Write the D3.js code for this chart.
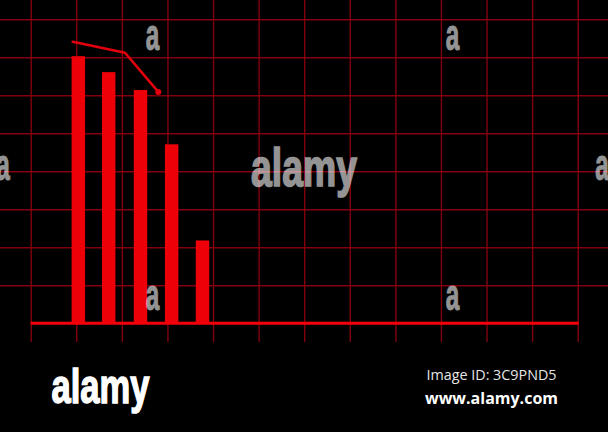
<!DOCTYPE html>
<html>
<head>
<meta charset="utf-8">
<script src="https://cdn.jsdelivr.net/npm/d3@7"></script>
<style>
  html, body { margin: 0; padding: 0; background: #000; }
  svg { display: block; }
</style>
</head>
<body>
<svg id="chart" width="608" height="432"></svg>
<script>
// ---- data ----
const xTicks = [0,1,2,3,4,5,6,7,8,9,10,11,12];
const yTicks = [1,2,3,4,5,6,7,8];
const barPositions = [1.045, 1.711, 2.409, 3.092, 3.769];
const barValues = [7.03, 6.61, 6.14, 4.71, 2.18];
const linePositions = [0.921, 2.069, 2.799];
const lineValues = [7.41, 7.12, 6.09];
const watermarkSmall = [[152.5, 50], [452.5, 50], [3, 180], [602, 180], [152.5, 310], [452.5, 310]];
const imageIdText = "Image ID: 3C9PND5";
const siteText = "www.alamy.com";
const logoText = "alamy";

const W = 608, H = 432;
const svg = d3.select("#chart");
svg.append("rect").attr("width", W).attr("height", H).attr("fill", "#000");

const x = d3.scaleLinear().domain([0, 12]).range([30.7, 577.7]);
const y = d3.scaleLinear().domain([0, 8]).range([323.3, 19.3]);

const gridColor = "#82000e";

// horizontal grid lines (full width)
const gy = svg.append("g")
  .call(d3.axisLeft(y).tickValues(yTicks).tickSize(-W).tickSizeOuter(0).tickFormat(""));
gy.select(".domain").remove();
gy.selectAll(".tick line").attr("stroke", gridColor).attr("stroke-width", 1.4);

// vertical grid lines (top to below baseline)
const gx = svg.append("g").attr("transform", "translate(0,342)")
  .call(d3.axisBottom(x).tickValues(xTicks).tickSize(-342).tickSizeOuter(0).tickFormat(""));
gx.select(".domain").remove();
gx.selectAll(".tick line").attr("stroke", gridColor).attr("stroke-width", 1.4);

// bars
const barW = 0.295;
svg.append("g").selectAll("rect")
  .data(barValues)
  .join("rect")
  .attr("x", (d, i) => x(barPositions[i] - barW / 2))
  .attr("width", (d, i) => x(barPositions[i] + barW / 2) - x(barPositions[i] - barW / 2))
  .attr("y", d => y(d))
  .attr("height", d => y(0) - y(d))
  .attr("fill", "#ee0008");

// baseline
svg.append("line")
  .attr("x1", x(0)).attr("x2", x(12) + 1)
  .attr("y1", y(0)).attr("y2", y(0))
  .attr("stroke", "#f5000a").attr("stroke-width", 3);

// line series
const lineData = linePositions.map((p, i) => [p, lineValues[i]]);
svg.append("path")
  .datum(lineData)
  .attr("fill", "none")
  .attr("stroke", "#e3000c")
  .attr("stroke-width", 2.6)
  .attr("stroke-linecap", "round")
  .attr("stroke-linejoin", "round")
  .attr("d", d3.line().x(d => x(d[0])).y(d => y(d[1])));
svg.append("circle")
  .attr("cx", x(linePositions[linePositions.length - 1]))
  .attr("cy", y(lineValues[lineValues.length - 1]))
  .attr("r", 3).attr("fill", "#e3000c");

// watermarks
const wmFont = "'Liberation Sans', Arial, sans-serif";
const wm = svg.append("g").attr("opacity", 0.58);
wm.selectAll("text.small")
  .data(watermarkSmall)
  .join("text")
  .attr("class", "small")
  .attr("x", d => d[0]).attr("y", d => d[1])
  .attr("text-anchor", "middle")
  .attr("font-family", wmFont).attr("font-weight", "bold")
  .attr("font-size", 44)
  .attr("textLength", 13.5).attr("lengthAdjust", "spacingAndGlyphs")
  .attr("fill", "#fff").attr("stroke", "#fff").attr("stroke-width", 1)
  .text("a");

wm.append("text")
  .attr("x", 304).attr("y", 186)
  .attr("text-anchor", "middle")
  .attr("font-family", wmFont).attr("font-weight", "bold")
  .attr("font-size", 53)
  .attr("textLength", 106).attr("lengthAdjust", "spacingAndGlyphs")
  .attr("fill", "#fff").attr("stroke", "#fff").attr("stroke-width", 1.6)
  .text(logoText);

// bottom band texts
svg.append("text")
  .attr("x", 51.5).attr("y", 403)
  .attr("font-family", wmFont).attr("font-weight", "bold")
  .attr("font-size", 48)
  .attr("textLength", 98).attr("lengthAdjust", "spacingAndGlyphs")
  .attr("fill", "#fff").attr("stroke", "#fff").attr("stroke-width", 1.5)
  .text(logoText);

svg.append("text")
  .attr("x", 426.5).attr("y", 380)
  .attr("font-family", "'Open Sans', 'Noto Sans', sans-serif")
  .attr("font-size", 14.5)
  .attr("textLength", 130).attr("lengthAdjust", "spacingAndGlyphs")
  .attr("fill", "#e6e6e6")
  .text(imageIdText);

svg.append("text")
  .attr("x", 425).attr("y", 403.5)
  .attr("font-family", "'Open Sans', 'Noto Sans', sans-serif")
  .attr("font-weight", "bold")
  .attr("font-size", 15.5)
  .attr("textLength", 133).attr("lengthAdjust", "spacingAndGlyphs")
  .attr("fill", "#fff")
  .text(siteText);
</script>
</body>
</html>
